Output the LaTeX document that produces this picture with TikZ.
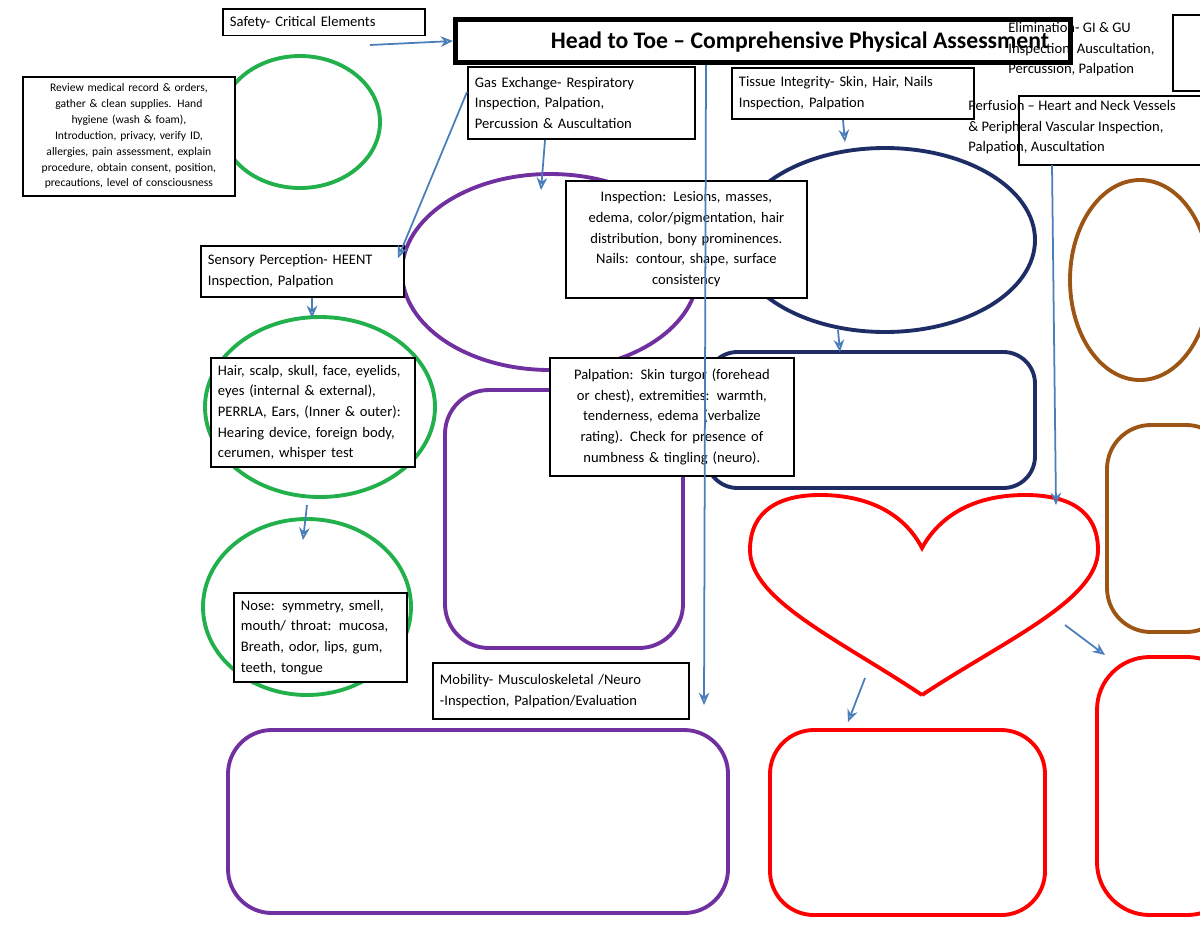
\documentclass[tikz,border=0pt]{standalone}
\usepackage{fontspec}
\setmainfont{Carlito}
\usetikzlibrary{arrows.meta}
\definecolor{grn}{HTML}{22B04C}
\definecolor{pur}{HTML}{7030A0}
\definecolor{nav}{HTML}{1F2D66}
\definecolor{brn}{HTML}{9C5514}
\definecolor{rd}{HTML}{FF0000}
\definecolor{arr}{HTML}{4A7EBB}
\tikzset{
 x=0.02cm,y=-0.02cm,
 tbox/.style={draw=black,line width=1pt,fill=white,align=left,inner sep=4pt,anchor=north west,font=\fontsize{8.3}{11.8}\selectfont},
 ar/.style={draw=arr,line width=1pt,-{Stealth[length=7pt,width=6pt,open]}},
 shp/.style={line width=2.2pt},
}
\begin{document}
\begin{tikzpicture}
\useasboundingbox (0,0) rectangle (1200,927);
% shapes
\draw[shp,grn] (300,122) ellipse [x radius=80,y radius=66];
\draw[shp,grn] (320,407) ellipse [x radius=115,y radius=90];
\draw[shp,grn] (307,607) ellipse [x radius=104,y radius=88];
\draw[shp,pur] (550,272) ellipse [x radius=148,y radius=98];
\draw[shp,nav] (885,240) ellipse [x radius=150,y radius=92];
\draw[shp,brn] (1140,280) ellipse [x radius=70,y radius=100];
\draw[shp,pur,rounded corners=25pt] (445,390) rectangle (683,648);
\draw[shp,nav,rounded corners=18pt] (706,352) rectangle (1035,488);
\draw[shp,brn,rounded corners=25pt] (1107,425) rectangle (1230,632);
\draw[shp,pur,rounded corners=25pt] (228,730) rectangle (728,913);
\draw[shp,rd,rounded corners=25pt] (770,730) rectangle (1045,915);
\draw[shp,rd,rounded corners=30pt] (1097,657) rectangle (1240,915);
\draw[shp,rd] (922,695) .. controls (840,640) and (750,600) .. (750,550)
  .. controls (750,510) and (780,495) .. (820,495)
  .. controls (870,495) and (905,515) .. (922,548)
  .. controls (940,515) and (975,495) .. (1025,495)
  .. controls (1068,495) and (1098,510) .. (1098,550)
  .. controls (1098,600) and (1005,640) .. (922,695);
% text boxes
\node[tbox,text width=3.76cm,minimum height=0.52cm] (safety) at (222,8) {Safety- Critical Elements};
\node[draw=black,line width=3pt,anchor=north west,minimum width=12.3cm,minimum height=0.86cm] (title) at (453,17) {};
\node[font=\bfseries\fontsize{13.5}{16}\selectfont] at (800,42) {Head to Toe – Comprehensive Physical Assessment};
\node[draw=black,line width=1pt,anchor=north west,minimum width=0.6cm,minimum height=1.52cm] (elimbox) at (1172,14) {};
\node[anchor=north west,align=left,font=\fontsize{8.3}{11.8}\selectfont,inner sep=0pt] (elim) at (1008,22) {Elimination- GI \& GU\\Inspection, Auscultation,\\Percussion, Palpation};
\node[tbox,align=center,font=\fontsize{6.6}{9}\selectfont,text width=3.96cm,minimum height=2.32cm] (review) at (22,76) {Review medical record \& orders,\\gather \& clean supplies. Hand\\hygiene (wash \& foam),\\Introduction, privacy, verify ID,\\allergies, pain assessment, explain\\procedure, obtain consent, position,\\precautions, level of consciousness};
\node[tbox,text width=4.26cm,minimum height=1.44cm] (gas) at (467,66) {Gas Exchange- Respiratory\\Inspection, Palpation,\\Percussion \& Auscultation};
\node[tbox,text width=4.56cm,minimum height=1.02cm] (tissue) at (731,67) {Tissue Integrity- Skin, Hair, Nails\\Inspection, Palpation};
\node[draw=black,line width=1pt,anchor=north west,minimum width=3.7cm,minimum height=1.38cm] (perfbox) at (1018,95) {};
\node[anchor=north west,align=left,font=\fontsize{8.3}{11.8}\selectfont,inner sep=0pt] (perf) at (968,100) {Perfusion – Heart and Neck Vessels\\\& Peripheral Vascular Inspection,\\Palpation, Auscultation};
\node[tbox,align=center,text width=4.54cm,minimum height=2.34cm] (insp) at (565,180) {Inspection: Lesions, masses,\\edema, color/pigmentation, hair\\distribution, bony prominences.\\Nails: contour, shape, surface\\consistency};
\node[tbox,text width=3.78cm,minimum height=1.02cm] (sens) at (200,245) {Sensory Perception- HEENT\\Inspection, Palpation};
\node[tbox,text width=3.8cm,minimum height=2.18cm] (hair) at (210,357) {Hair, scalp, skull, face, eyelids,\\eyes (internal \& external),\\PERRLA, Ears, (Inner \& outer):\\Hearing device, foreign body,\\cerumen, whisper test};
\node[tbox,align=center,text width=4.6cm,minimum height=2.36cm] (palp) at (549,357) {Palpation: Skin turgor (forehead\\or chest), extremities: warmth,\\tenderness, edema (verbalize\\rating). Check for presence of\\numbness \& tingling (neuro).};
\node[tbox,text width=3.18cm,minimum height=1.76cm] (nose) at (233,592) {Nose: symmetry, smell,\\mouth/ throat: mucosa,\\Breath, odor, lips, gum,\\teeth, tongue};
\node[tbox,text width=4.84cm,minimum height=1.12cm] (mob) at (432,662) {Mobility- Musculoskeletal /Neuro\\-Inspection, Palpation/Evaluation};
% arrows
\coordinate (a1) at (370,45); \coordinate (a2) at (453,41);
\draw[ar] (a1) -- (a2);
\draw[ar] (467,92) -- (398,258);
\draw[ar] (545,140) -- (541,190);
\draw[ar] (843,120) -- (845,142);
\draw[ar] (706,65) -- (704,705);
\draw[ar] (838,330) -- (840,352);
\draw[ar] (312,298) -- (312,318);
\draw[ar] (307,505) -- (303,540);
\draw[ar] (1052,165) -- (1056,505);
\draw[ar] (1065,625) -- (1105,655);
\draw[ar] (865,678) -- (848,722);
\end{tikzpicture}
\end{document}
